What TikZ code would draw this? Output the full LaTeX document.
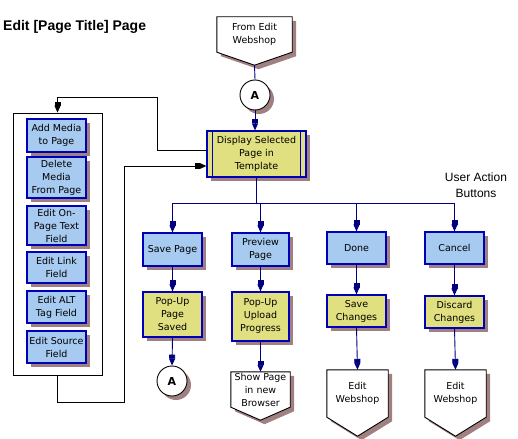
\documentclass[tikz,border=0pt]{standalone}
\usepackage{fontspec}
\setmainfont{DejaVu Sans}
\newfontfamily\titlefont{Liberation Sans}
\usetikzlibrary{arrows.meta,shadows,calc,backgrounds}
\definecolor{bluefill}{RGB}{166,202,240}
\definecolor{yelfill}{RGB}{224,224,128}
\definecolor{boxline}{RGB}{0,0,185}
\definecolor{connc}{RGB}{0,0,128}
\definecolor{shadc}{RGB}{160,128,128}
\newcommand\opshape[2]{%
  \coordinate (#1tip) at ($(#1.south)+(0,#2)$);
  \begin{scope}[on background layer]
  \fill[shadc] ($(#1.north west)+(4,4)$) -- ($(#1.north east)+(4,4)$) -- ($(#1.south east)+(4,4)$) -- ($(#1tip)+(4,4)$) -- ($(#1.south west)+(4,4)$) -- cycle;
  \filldraw[fill=white,draw=black,line width=0.9pt] (#1.north west) -- (#1.north east) -- (#1.south east) -- (#1tip) -- (#1.south west) -- cycle;
  \end{scope}}
\begin{document}
\begin{tikzpicture}[x=1pt,y=-1pt,
  shd/.style={general shadow={fill=shadc,shadow xshift=4pt,shadow yshift=-4pt}},
  box/.style={rectangle,draw=boxline,line width=1.2pt,inner sep=0pt,align=center,
    font=\fontsize{9.5}{13}\selectfont,shd},
  bluebox/.style={box,fill=bluefill},
  yelbox/.style={box,fill=yelfill},
  opnode/.style={rectangle,draw=none,inner sep=0pt,align=center,font=\fontsize{9.5}{13}\selectfont},
  circ/.style={circle,draw=black,fill=white,line width=0.9pt,minimum size=30pt,inner sep=0pt,
    font=\bfseries\fontsize{11}{13}\selectfont,shd},
  connl/.style={draw=connc,line width=0.9pt},
  arr/.style={connl,-{Rectangle[length=4pt,width=6pt]Triangle[length=7pt,width=6pt]}},
  arrk/.style={draw=black,line width=0.9pt,-{Rectangle[length=4pt,width=6pt]Triangle[length=7pt,width=6pt]}}]
\useasboundingbox (0,0) rectangle (518,438);

\node[font=\titlefont\bfseries\fontsize{14}{16}\selectfont,anchor=west,inner sep=0pt] (title) at (3,27) {Edit [Page Title] Page};
\node[font=\titlefont\fontsize{12}{16}\selectfont,align=center,inner sep=0pt] (uab) at (476,185) {User Action\\Buttons};

% left group
\node[rectangle,draw=black,fill=white,line width=0.9pt,minimum width=89pt,minimum height=262pt] (group) at (57.5,244) {};
\node[bluebox,minimum width=59pt,minimum height=33pt] (add) at (56.5,135.5) {Add Media\\to Page};
\node[bluebox,minimum width=59pt,minimum height=41pt] (del) at (56.5,177.5) {Delete\\Media\\From Page};
\node[bluebox,minimum width=59pt,minimum height=39pt] (onp) at (56.5,225.5) {Edit On-\\Page Text\\Field};
\node[bluebox,minimum width=59pt,minimum height=31pt] (lnk) at (56.5,267.5) {Edit Link\\Field};
\node[bluebox,minimum width=59pt,minimum height=32pt] (alt) at (56.5,307) {Edit ALT\\Tag Field};
\node[bluebox,minimum width=59pt,minimum height=32pt] (src) at (56.5,347) {Edit Source\\Field};

% top
\node[opnode,minimum width=75pt,minimum height=35pt] (fe) at (254.5,34.5) {From Edit\\Webshop};
\opshape{fe}{13}
\node[circ] (A1) at (255,95) {A};
\node[yelbox,minimum width=99pt,minimum height=46pt] (disp) at (256.5,154) {Display Selected\\Page in\\Template};
\draw[boxline,line width=1.2pt] ($(disp.north west)+(6,0)$) -- ($(disp.south west)+(6,0)$);
\draw[boxline,line width=1.2pt] ($(disp.north east)+(-6,0)$) -- ($(disp.south east)+(-6,0)$);

% buttons
\node[bluebox,minimum width=59pt,minimum height=33pt] (save) at (172.5,249.5) {Save Page};
\node[bluebox,minimum width=57pt,minimum height=33pt] (prev) at (260.5,249.5) {Preview\\Page};
\node[bluebox,minimum width=59pt,minimum height=32pt] (done) at (356.5,248) {Done};
\node[bluebox,minimum width=59pt,minimum height=32pt] (cancel) at (454.5,248) {Cancel};

\node[yelbox,minimum width=59pt,minimum height=45pt] (pops) at (172.5,314.5) {Pop-Up\\Page\\Saved};
\node[yelbox,minimum width=57pt,minimum height=49pt] (popu) at (260.5,316.5) {Pop-Up\\Upload\\Progress};
\node[yelbox,minimum width=59pt,minimum height=32pt] (savc) at (356.5,311) {Save\\Changes};
\node[yelbox,minimum width=59pt,minimum height=32pt] (disc) at (454.5,312) {Discard\\Changes};

\node[circ] (A2) at (172,381) {A};
\node[opnode,minimum width=59pt,minimum height=35pt] (show) at (260.5,389.5) {Show Page\\in new\\Browser};
\opshape{show}{13}
\node[opnode,minimum width=61pt,minimum height=47pt] (ew1) at (357.5,393.5) {Edit\\Webshop};
\opshape{ew1}{19}
\node[opnode,minimum width=61pt,minimum height=47pt] (ew2) at (455.5,393.5) {Edit\\Webshop};
\opshape{ew2}{19}

% connectors
\draw[connl] (fetip) -- (A1.north);
\draw[arr] (A1.south) -- (disp.north -| A1.south);
\coordinate (bus) at (256.5,203);
\draw[connl] (disp.south) -- (bus);
\draw[arr] (bus) -| (save.north);
\draw[arr] (bus) -| (prev.north);
\draw[arr] (bus) -| (done.north);
\draw[arr] (bus) -| (cancel.north);
\draw[arr] (save.south) -- (pops.north);
\draw[arr] (prev.south) -- (popu.north);
\draw[arr] (done.south) -- (savc.north);
\draw[arr] (cancel.south) -- (disc.north);
\draw[arr] (pops.south) -- (A2.north);
\draw[arr] (popu.south) -- (show.north);
\draw[arr] (savc.south) -- (ew1.north);
\draw[arr] (disc.south) -- (ew2.north);

\coordinate (lp1) at (157,97);
\coordinate (lp2) at (124,402);
\draw[arrk] ([yshift=4pt]disp.west) -| (lp1) -| (group.north);
\draw[arrk] (group.south) |- (lp2) |- ([yshift=-12pt]disp.west);
\end{tikzpicture}
\end{document}
